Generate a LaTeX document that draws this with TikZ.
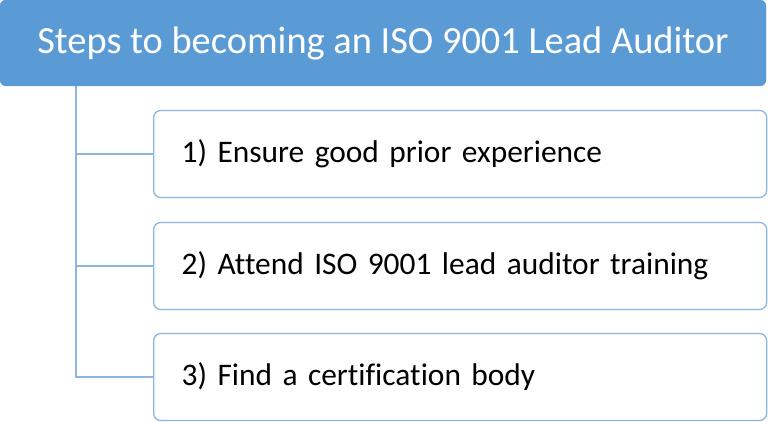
\documentclass[tikz,border=0pt]{standalone}
\usepackage{fontspec}
\setmainfont[Ligatures=NoCommon]{Carlito}
\definecolor{headblue}{HTML}{5B9BD5}
\definecolor{edgeblue}{HTML}{8EB4E3}
\begin{document}
\begin{tikzpicture}[x=1pt,y=-1pt,
  headbox/.style={fill=headblue, draw=headblue, rounded corners=6pt, text=white,
    font=\fontsize{38.4}{44}\selectfont, minimum width=766pt, minimum height=86pt, inner sep=0pt},
  stepbox/.style={fill=white, draw=edgeblue, line width=1.3pt, rounded corners=7pt,
    text width=557pt, inner xsep=28pt, inner ysep=0pt, minimum height=87pt, align=left,
    font=\fontsize{31.4}{36}\selectfont, anchor=west},
  link/.style={draw=edgeblue, line width=1.3pt}]
\useasboundingbox (0,0) rectangle (768,422);
\node[headbox] (head) at (383,43) {Steps to becoming an ISO 9001 Lead Auditor};
\coordinate (trunk) at (76,0);
\node[stepbox] (s1) at (153,154) {1) Ensure good prior experience};
\node[stepbox] (s2) at (153,266) {2) Attend ISO 9001 lead auditor training};
\node[stepbox] (s3) at (153,377) {3) Find a certification body};
\draw[link] (head.south -| trunk) |- (s3.west);
\draw[link] (s1.west -| trunk) -- (s1.west);
\draw[link] (s2.west -| trunk) -- (s2.west);
\end{tikzpicture}
\end{document}
